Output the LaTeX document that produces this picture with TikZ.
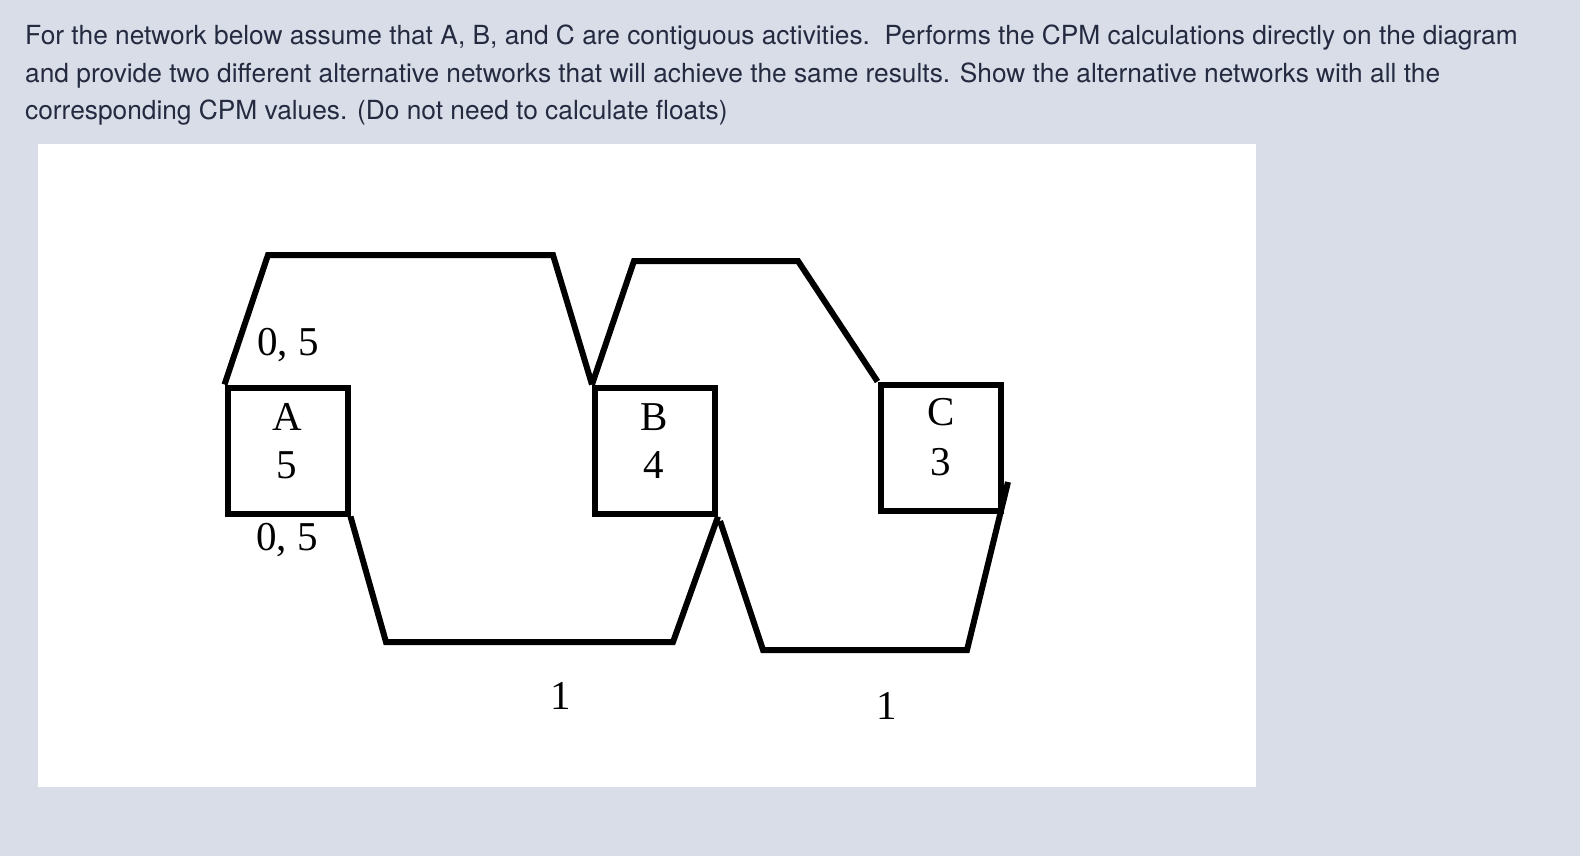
\documentclass[tikz,border=0pt]{standalone}
\usepackage{fontspec}
\setmainfont{Liberation Serif}
\newfontfamily\hv{TeX Gyre Heros}
\definecolor{bg}{RGB}{217,221,231}
\definecolor{txt}{RGB}{36,42,64}
\begin{document}
\begin{tikzpicture}[x=1pt,y=-1pt,
  para/.style={font=\hv\fontsize{26.3}{30}\selectfont, text=txt, inner sep=0, anchor=base west},
  box/.style={draw, line width=6pt, minimum width=120pt, minimum height=126pt, inner sep=0},
  conn/.style={line width=6pt},
  lbl/.style={font=\fontsize{41}{49}\selectfont, inner sep=0, anchor=base}]
\useasboundingbox (0,0) rectangle (1580,856);
\fill[bg] (0,0) rectangle (1580,856);
\fill[white] (38,144) rectangle (1256,787);
\node[para] (t1) at (25,45) {For the network below assume that A, B, and C are contiguous activities.~~Performs the CPM calculations directly on the diagram};
\node[para] (t2) at (25,83) {and provide two different alternative networks that will achieve the same results. Show the alternative networks with all the};
\node[para] (t3) at (25,120) {corresponding CPM values. (Do not need to calculate floats)};
% activity boxes
\node[box] (A) at (287.5,450.5) {};
\node[box] (B) at (655,450.5) {};
\node[box] (C) at (940.5,447.5) {};
% texts
\node[lbl] (la) at (287,430) {A};
\node[lbl] (da) at (287,478) {5};
\node[lbl] (lb) at (654,430) {B};
\node[lbl] (db) at (654,478) {4};
\node[lbl] (lc) at (941,425) {C};
\node[lbl] (dc) at (941,475) {3};
\node[lbl] (es) at (288,355) {0, 5};
\node[lbl] (lf) at (287,550) {0, 5};
\node[lbl] (n1) at (561,709) {1};
\node[lbl] (n2) at (887,719) {1};
% connectors
\draw[conn] (A.north west) -- (268,255) -- (553,255) -- (B.north west);
\draw[conn] (B.north west) -- (634,261) -- (798,261) -- (C.north west);
\draw[conn] (A.south east) -- (386,642) -- (673,642) -- (B.south east);
\coordinate (s2) at (720,521);
\coordinate (e2) at (1008,482);
\draw[conn] (s2) -- (763,650) -- (967,650) -- (e2);
\end{tikzpicture}
\end{document}
